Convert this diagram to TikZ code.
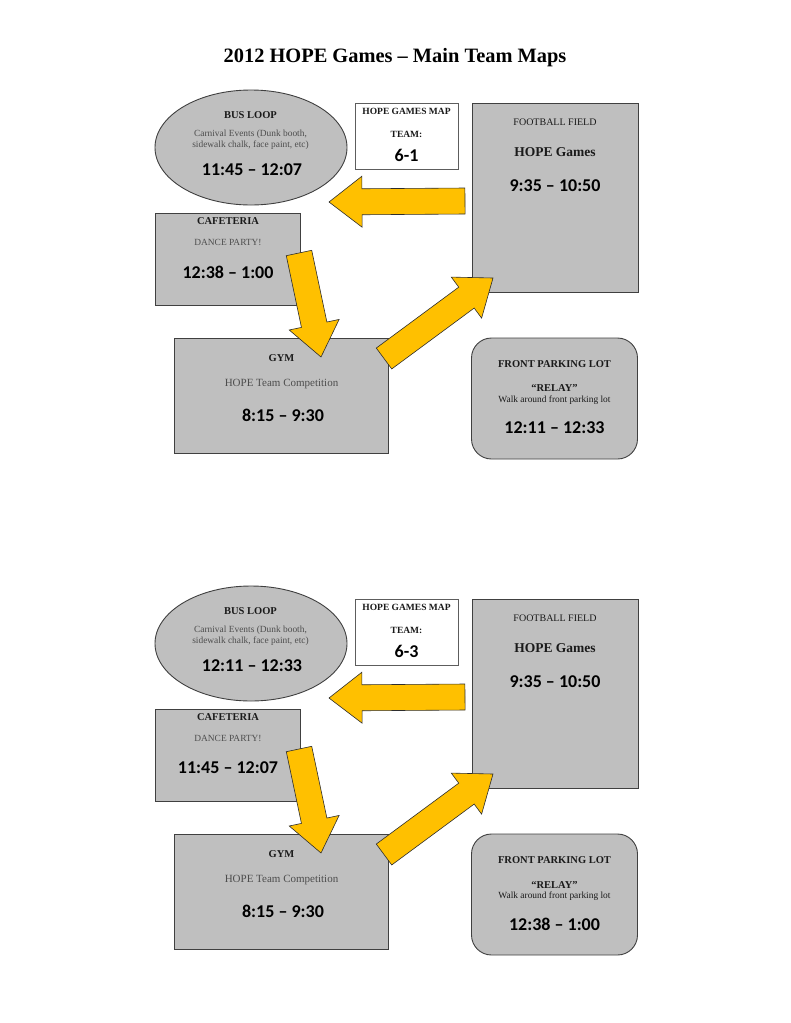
\documentclass[tikz,border=0pt]{standalone}
\usepackage{fontspec}
\setmainfont{Liberation Serif}
\newfontfamily\timefont{Carlito}
\usetikzlibrary{calc,shapes.geometric}
\definecolor{cPlace}{HTML}{BFBFBF}
\definecolor{cEdge}{HTML}{404040}
\definecolor{cArrow}{HTML}{FFC000}
\definecolor{cNote}{HTML}{4D4D4D}
\definecolor{cInk}{HTML}{1A1A1A}
\tikzset{
  place/.style={draw=cEdge, fill=cPlace, line width=0.9pt, inner sep=0pt},
  busloop/.style={place, ellipse, minimum width=192pt, minimum height=115pt},
  teambox/.style={draw=cEdge!85, fill=white, line width=0.8pt, minimum width=103pt, minimum height=66pt},
  heading/.style={font=\fontsize{20.4}{24}\selectfont\bfseries, inner sep=0pt},
  tag/.style={font=\fontsize{10.5}{12}\selectfont\bfseries, text=cInk, inner sep=0pt},
  label/.style={font=\fontsize{10}{12}\selectfont, text=cInk, inner sep=0pt},
  note/.style={font=\fontsize{9.4}{10.6}\selectfont, text=cNote, inner sep=0pt, align=center},
  slot/.style={font=\timefont\fontsize{18}{20}\selectfont\bfseries, text=black, inner sep=0pt},
  barrow/.style={draw=cEdge!70!black, fill=cArrow, line width=0.6pt, line join=miter},
}
\newcommand{\shaftw}{13pt}
\newcommand{\headw}{25.5pt}
\newcommand{\headl}{33pt}
% block arrow from tail #1 to tip #2
\newcommand{\blockarrow}[2]{%
  \coordinate (hb) at ($(#2)!\headl!(#1)$);
  \draw[barrow] ($(#1)!\shaftw!90:(#2)$) -- ($(hb)!\shaftw!-90:(#1)$)
    -- ($(hb)!\headw!-90:(#1)$) -- (#2) -- ($(hb)!\headw!90:(#1)$)
    -- ($(hb)!\shaftw!90:(#1)$) -- ($(#1)!\shaftw!-90:(#2)$) -- cycle;}

\begin{document}
\begin{tikzpicture}[x=1pt, y=-1pt]
  \useasboundingbox (0,0) rectangle (791,1023);
  \node[heading] (title) at (395,58) {2012 HOPE Games – Main Team Maps};
  \foreach \dy/\team/\bus/\cafe/\lot in {0/6-1/11:45 – 12:07/12:38 – 1:00/12:11 – 12:33,
      496/6-3/12:11 – 12:33/11:45 – 12:07/12:38 – 1:00}{
  \begin{scope}[yshift=-\dy pt]
    % places
    \node[busloop] (bus) at (251,147.5) {};
    \node[teambox] (team) at (406.5,136) {};
    \node[place, minimum width=166pt, minimum height=189pt] (field) at (555,197.5) {};
    \node[place, minimum width=145pt, minimum height=92pt] (cafe) at (228,259) {};
    \node[place, minimum width=214pt, minimum height=115pt] (gym) at (281.5,395.5) {};
    \node[place, rounded corners=20pt, minimum width=166pt, minimum height=121pt] (lot) at (554.5,398.5) {};
    % bus loop
    \node[tag] (bus-name) at (250.5,115) {BUS LOOP};
    \node[note] (bus-note) at (250.5,140) {Carnival Events (Dunk booth,\\sidewalk chalk, face paint, etc)};
    \node[slot] (bus-time) at (252,170) {\bus};
    % team card
    \node[tag, font=\fontsize{9.5}{11}\selectfont\bfseries] (team-name) at (406.5,111) {HOPE GAMES MAP};
    \node[tag, font=\fontsize{9.5}{11}\selectfont\bfseries] (team-tag) at (406.5,134) {TEAM:};
    \node[slot] (team-no) at (406.5,155) {\team};
    % football field
    \node[label] (field-name) at (555,122) {FOOTBALL FIELD};
    \node[tag, font=\fontsize{13.5}{16}\selectfont\bfseries] (field-note) at (555,152) {HOPE Games};
    \node[slot] (field-time) at (555,186) {9:35 – 10:50};
    % cafeteria
    \node[tag] (cafe-name) at (228,221.5) {CAFETERIA};
    \node[note] (cafe-note) at (228,242.5) {DANCE PARTY!};
    \node[slot] (cafe-time) at (228,272) {\cafe};
    % gym
    \node[tag] (gym-name) at (281.5,358.5) {GYM};
    \node[note, font=\fontsize{11}{13}\selectfont] (gym-note) at (281.5,384) {HOPE Team Competition};
    \node[slot] (gym-time) at (283,415) {8:15 – 9:30};
    % front parking lot
    \node[tag] (lot-name) at (554.5,364) {FRONT PARKING LOT};
    \node[tag] (lot-tag) at (554.5,388.5) {“RELAY”};
    \node[note, text=cInk] (lot-note) at (554.5,400.5) {Walk around front parking lot};
    \node[slot] (lot-time) at (554.5,428) {\lot};
    % moves between places
    \coordinate (f-tail) at (465,201);
    \coordinate (f-tip) at (329,202);
    \coordinate (c-tail) at (299,253);
    \coordinate (c-tip) at (321,357);
    \coordinate (g-tail) at (384,358.5);
    \coordinate (g-tip) at (493,278);
    \blockarrow{f-tail}{f-tip}
    \blockarrow{c-tail}{c-tip}
    \blockarrow{g-tail}{g-tip}
  \end{scope}}
\end{tikzpicture}
\end{document}
